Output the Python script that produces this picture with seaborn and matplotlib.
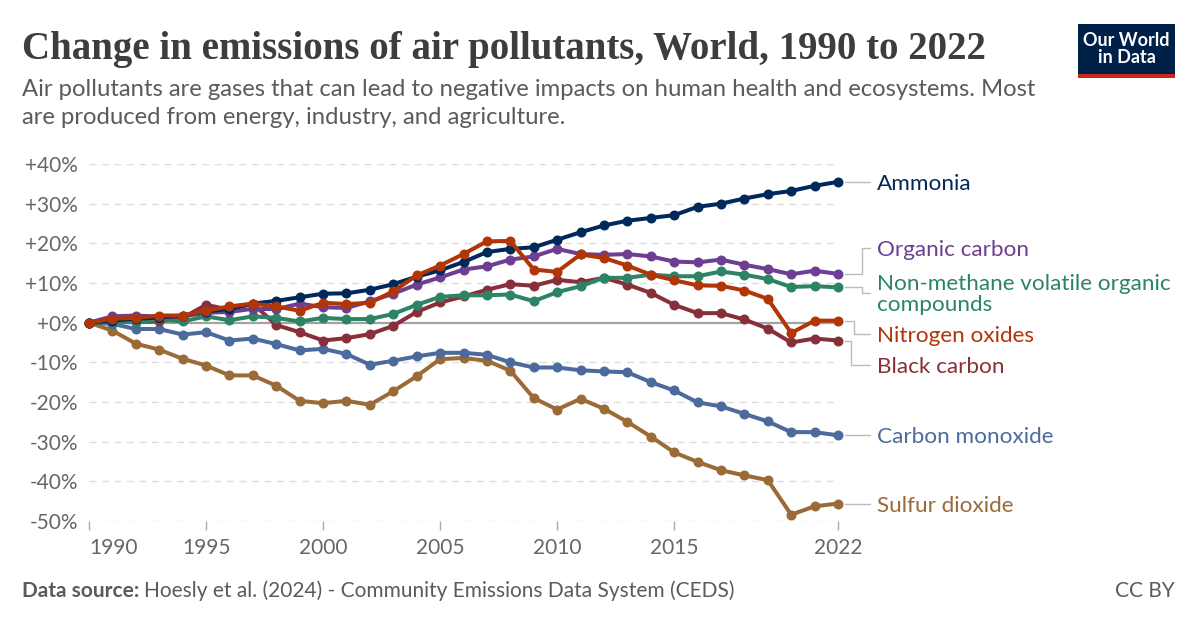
import numpy as np
import pandas as pd
import matplotlib
matplotlib.use("Agg")
import matplotlib.pyplot as plt
import matplotlib.transforms as mtransforms
from matplotlib.patches import Rectangle
import seaborn as sns

years = list(range(1990, 2023))

ammonia = [0, 0.5, 1.0, 1.3, 1.8, 2.8, 3.5, 4.8, 5.5, 6.4, 7.3, 7.4, 8.3, 9.7, 11.6, 13.2,
           15.3, 17.8, 18.6, 19.0, 20.9, 22.8, 24.5, 25.7, 26.4, 27.1, 29.2, 30.0, 31.3,
           32.4, 33.2, 34.5, 35.5]
organic_carbon = [0, 1.6, 1.8, 1.5, 1.6, 2.5, 2.7, 3.5, 3.4, 4.8, 3.9, 3.7, 5.4, 7.3, 9.6,
                  11.4, 13.4, 14.2, 15.9, 16.7, 18.6, 17.3, 17.1, 17.3, 16.7, 15.4, 15.2,
                  15.9, 14.6, 13.5, 12.2, 13.1, 12.3]
nmvoc = [0, 0.2, 0.1, 0.8, 0.3, 1.6, 0.6, 1.6, 1.2, 0.3, 1.2, 0.9, 0.9, 2.2, 4.5, 6.5, 6.9,
         6.9, 7.1, 5.4, 7.7, 9.2, 11.3, 11.3, 12.1, 11.7, 11.7, 12.9, 12.1, 11.0, 9.0, 9.2, 8.9]
nitrogen_oxides = [0, 1.0, 1.2, 1.8, 1.8, 3.0, 4.1, 4.8, 4.1, 3.0, 5.0, 4.7, 5.0, 7.9, 11.9,
                   14.4, 17.3, 20.5, 20.6, 13.4, 12.8, 17.2, 16.3, 14.4, 12.1, 10.7, 9.4, 9.3,
                   8.1, 6.0, -2.6, 0.5, 0.5]
black_carbon = [0, 0.3, 0.2, 0.3, 1.2, 4.5, 3.3, 4.8, -0.6, -2.4, -4.5, -3.9, -2.9, -0.8, 2.7,
                5.1, 6.6, 8.3, 9.7, 9.3, 10.8, 10.2, 11.3, 9.6, 7.5, 4.5, 2.4, 2.4, 0.8, -1.5,
                -5.0, -4.0, -4.5]
carbon_monoxide = [0, -0.3, -1.6, -1.6, -3.0, -2.4, -4.5, -4.0, -5.4, -7.0, -6.6, -7.9, -10.6,
                   -9.6, -8.5, -7.6, -7.6, -8.1, -10.0, -11.3, -11.3, -12.0, -12.3, -12.5,
                   -15.0, -17.1, -20.1, -21.1, -23.0, -24.9, -27.6, -27.6, -28.4]
sulfur_dioxide = [0, -2.0, -5.3, -6.8, -9.1, -10.8, -13.3, -13.3, -15.9, -19.7, -20.3, -19.7,
                  -20.7, -17.3, -13.5, -9.2, -8.9, -9.6, -12.1, -19.0, -21.9, -19.2, -21.7,
                  -25.0, -28.7, -32.7, -35.1, -37.2, -38.5, -39.7, -48.4, -46.3, -45.6]

series = {
    "Sulfur dioxide": sulfur_dioxide,
    "Carbon monoxide": carbon_monoxide,
    "Black carbon": black_carbon,
    "Non-methane volatile organic\ncompounds": nmvoc,
    "Organic carbon": organic_carbon,
    "Ammonia": ammonia,
    "Nitrogen oxides": nitrogen_oxides,
}
colors = {
    "Ammonia": "#00295b",
    "Organic carbon": "#6d3e91",
    "Non-methane volatile organic\ncompounds": "#2c8465",
    "Nitrogen oxides": "#b13507",
    "Black carbon": "#883039",
    "Carbon monoxide": "#4c6a9c",
    "Sulfur dioxide": "#9a6a37",
}
# label y positions (data units) after de-overlapping
label_y = {
    "Ammonia": 35.5,
    "Organic carbon": 18.9,
    "Non-methane volatile organic\ncompounds": 7.6,
    "Nitrogen oxides": -2.8,
    "Black carbon": -10.6,
    "Carbon monoxide": -28.4,
    "Sulfur dioxide": -45.6,
}
elbow_x = {
    "Organic carbon": 1.032,
    "Non-methane volatile organic\ncompounds": 1.032,
    "Nitrogen oxides": 1.022,
    "Black carbon": 1.017,
}

yticks = [40, 30, 20, 10, 0, -10, -20, -30, -40, -50]
ytick_labels = ["+40%", "+30%", "+20%", "+10%", "+0%", "-10%", "-20%", "-30%", "-40%", "-50%"]
xticks = [1990, 1995, 2000, 2005, 2010, 2015, 2022]

rows = []
for name, vals in series.items():
    for y, v in zip(years, vals):
        rows.append({"year": y, "value": v, "pollutant": name})
df = pd.DataFrame(rows)

sns.set_theme(style="white")
plt.rcParams["font.family"] = ["Lato", "DejaVu Sans"]

fig = plt.figure(figsize=(12, 6.27), dpi=100)
ax = fig.add_axes([89 / 1200, 1 - 521 / 627, 749 / 1200, (521 - 164) / 627])

for yv in yticks:
    if yv == 0:
        ax.axhline(0, color="#a2a2a2", lw=1.6, zorder=1)
    else:
        ax.axhline(yv, color="#dddddd", lw=1.0, ls=(0, (5, 4)), zorder=0)

sns.lineplot(data=df, x="year", y="value", hue="pollutant", palette=colors,
             hue_order=list(series.keys()), marker="o", markersize=7.2,
             markeredgewidth=0, linewidth=2.9, legend=False, ax=ax, clip_on=False,
             zorder=3)

ax.set_xlim(1990, 2022)
ax.set_ylim(-50, 40)
ax.set_xlabel("")
ax.set_ylabel("")
for s in ax.spines.values():
    s.set_visible(False)
ax.set_yticks(yticks)
ax.set_yticklabels(ytick_labels)
ax.set_xticks(xticks)
ax.set_xticklabels([str(x) for x in xticks])
ax.tick_params(axis="y", length=0, pad=8, labelsize=15, labelcolor="#666666")
ax.tick_params(axis="x", length=6.5, width=1, color="#aaaaaa", pad=6, labelsize=15,
               labelcolor="#666666", bottom=True, direction="out")
ax.get_xticklabels()[0].set_horizontalalignment("left")
ax.grid(False)

# right-hand labels with connectors
trans = mtransforms.blended_transform_factory(ax.transAxes, ax.transData)
for name, vals in series.items():
    end = vals[-1]
    ly = label_y[name]
    c = colors[name]
    if name in elbow_x:
        ex = elbow_x[name]
        ax.plot([1.009, ex, ex, 1.043], [end, end, ly, ly], transform=trans,
                color="#bbbbbb", lw=1.0, clip_on=False)
    else:
        ax.plot([1.009, 1.043], [end, ly], transform=trans, color="#bbbbbb", lw=1.0,
                clip_on=False)
    ax.text(1.052, ly - 0.5, name, transform=trans, color=c, fontsize=16.2, va="center",
            ha="left", linespacing=1.05)

# title, subtitle
fig.text(22 / 1200, 1 - 49 / 627, "Change in emissions of air pollutants, World, 1990 to 2022",
         family=["Liberation Serif", "DejaVu Serif"], fontsize=28, fontweight="bold",
         color="#3d3d3d", va="center", ha="left")
fig.text(22 / 1200, 1 - 89 / 627,
         "Air pollutants are gases that can lead to negative impacts on human health and ecosystems. Most",
         fontsize=17.2, color="#5b5b5b", va="center", ha="left")
fig.text(22 / 1200, 1 - 118 / 627, "are produced from energy, industry, and agriculture.",
         fontsize=17.2, color="#5b5b5b", va="center", ha="left")

# footer
fig.canvas.draw()
r = fig.canvas.get_renderer()
t1 = fig.text(22 / 1200, 1 - 591 / 627, "Data source:", fontsize=15, fontweight="bold",
              color="#5b5b5b", va="center", ha="left")
bb = t1.get_window_extent(renderer=r)
fig.text((bb.x1 + 5) / 1200, 1 - 591 / 627,
         "Hoesly et al. (2024) - Community Emissions Data System (CEDS)",
         fontsize=15, color="#5b5b5b", va="center", ha="left")
fig.text(1175 / 1200, 1 - 591 / 627, "CC BY", fontsize=15, color="#5b5b5b", va="center",
         ha="right")

# logo
fig.patches.append(Rectangle((1078 / 1200, 1 - 78 / 627), 97 / 1200, 54 / 627,
                             transform=fig.transFigure, facecolor="#002147",
                             edgecolor="none"))
fig.patches.append(Rectangle((1078 / 1200, 1 - 78 / 627), 97 / 1200, 4 / 627,
                             transform=fig.transFigure, facecolor="#ce261e",
                             edgecolor="none"))
fig.text(1126.5 / 1200, 1 - 49 / 627, "Our World\nin Data", fontsize=13, color="white",
         ha="center", va="center", linespacing=0.95, fontweight="bold")

fig.savefig("out.png", dpi=100, facecolor="white")
